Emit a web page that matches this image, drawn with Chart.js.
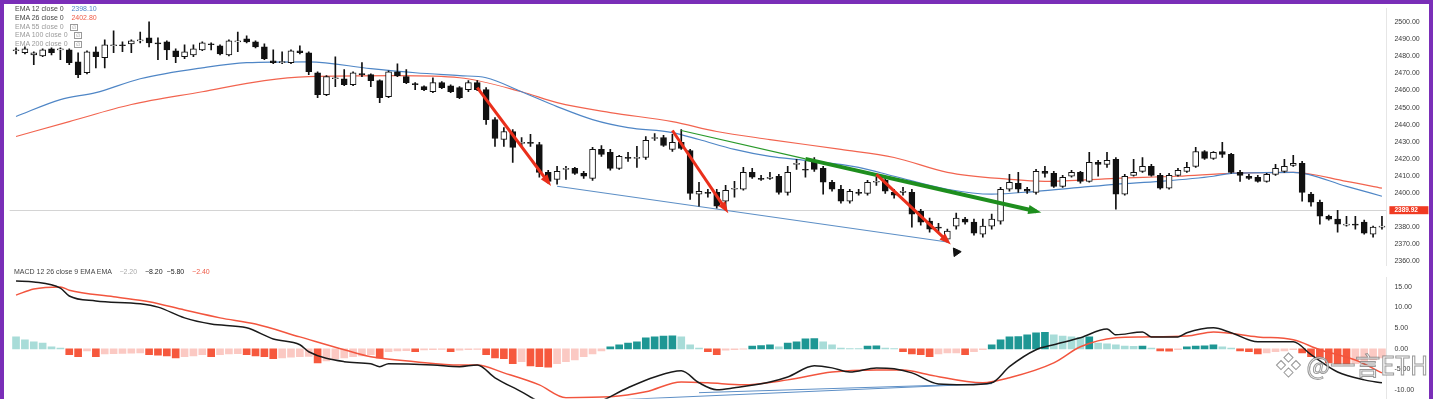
<!DOCTYPE html>
<html>
<head>
<meta charset="utf-8">
<script src="https://cdn.jsdelivr.net/npm/chart.js@4.4.1/dist/chart.umd.min.js"></script>
<style>
  html, body { margin: 0; padding: 0; background: #fff; }
  #wrap { position: relative; width: 1436px; height: 399px; overflow: hidden; background: #fff;
          font-family: "Liberation Sans", Arial, sans-serif; }
  #mainBox { position: absolute; left: 0; top: 0; width: 1436px; height: 271px; }
  #macdBox { position: absolute; left: 0; top: 268px; width: 1436px; height: 136px; }
  #frame { position: absolute; left: 0; top: 0; width: 1433px; height: 399px; box-sizing: border-box;
           border-top: 4px solid #7a2eb8; border-left: 4px solid #7a2eb8; border-right: 4px solid #7a2eb8;
           pointer-events: none; }
  .lg { position: absolute; font-size: 7px; line-height: 8px; color: #444; white-space: pre; }
  .lg.off { color: #9a9a9a; }
  .box { display: inline-block; border: 1px solid #9a9a9a; font-size: 5px; line-height: 5px; padding: 0 1px; margin-left: 6px; }
  #mark { position: absolute; left: 1276px; top: 350px; font-family: "Noto Sans CJK SC", "DejaVu Sans", sans-serif;
          font-size: 25px; line-height: 28px; color: rgba(255,255,255,0.85);
          -webkit-text-stroke: 1px rgba(110,110,110,0.7); white-space: pre; }
</style>
</head>
<body>
<div id="wrap">
  <div id="mainBox"><canvas id="mainChart"></canvas></div>
  <div id="macdBox"><canvas id="macdChart"></canvas></div>

  <div class="lg" style="left:15px;top:5px">EMA 12 close 0    <span style="color:#4f86c6">2398.10</span></div>
  <div class="lg" style="left:15px;top:14px">EMA 26 close 0    <span style="color:#ef5b47">2402.80</span></div>
  <div class="lg off" style="left:15px;top:23px">EMA 55 close 0<span class="box">∅</span></div>
  <div class="lg off" style="left:15px;top:31px">EMA 100 close 0<span class="box">∅</span></div>
  <div class="lg off" style="left:15px;top:40px">EMA 200 close 0<span class="box">∅</span></div>

  <div class="lg" style="left:14px;top:268px">MACD 12 26 close 9 EMA EMA    <span style="color:#aaa">−2.20</span>    <span style="color:#222">−8.20  −5.80</span>    <span style="color:#ef5b47">−2.40</span></div>

  <div id="mark">❖ @一言ETH</div>
  <div id="frame"></div>
</div>

<script>
// candles (one per bar, oldest first)
const opens = [2483.3,2482.1,2480.9,2480.3,2484.4,2483.8,2483.8,2476.8,2470.4,2482.7,2479.2,2486.2,2486.8,2487.3,2489.1,2490.8,2487.9,2488.5,2483.3,2479.8,
  2480.9,2483.8,2487.3,2486.2,2480.9,2488.5,2490.3,2488.5,2485.6,2477.4,2476.3,2476.3,2483.3,2482.1,2470.4,2457.6,2466.9,2466.9,2463.4,2469.8,
  2469.3,2465.8,2456.4,2471.0,2468.1,2464.0,2462.3,2459.3,2464.6,2462.8,2461.7,2460.5,2464.6,2460.5,2443.0,2431.3,2436.0,2429.0,2429.6,2428.4,
  2412.1,2408.0,2413.8,2414.4,2411.5,2408.6,2425.5,2423.8,2414.4,2420.8,2420.3,2420.8,2431.9,2432.5,2425.5,2429.6,2424.9,2399.3,2400.4,2400.4,
  2395.2,2402.2,2402.2,2412.1,2408.6,2408.6,2409.8,2400.4,2416.8,2413.8,2419.1,2414.4,2406.3,2402.2,2395.2,2400.4,2399.8,2406.3,2407.4,2400.4,
  2400.4,2400.4,2389.3,2383.5,2380.0,2373.0,2380.6,2384.7,2382.9,2375.9,2380.6,2383.5,2402.2,2405.7,2402.2,2400.4,2412.7,2411.5,2403.9,2409.8,
  2412.1,2406.8,2417.9,2416.8,2419.7,2399.3,2410.3,2412.7,2415.6,2410.3,2402.8,2410.3,2412.7,2415.6,2424.3,2420.3,2424.3,2422.6,2412.1,2409.8,
  2409.2,2406.8,2410.9,2412.7,2416.2,2417.3,2399.3,2394.6,2386.4,2384.7,2381.2,2381.8,2382.9,2375.9,2380.0];
const highs = [2485.0,2485.6,2482.7,2484.4,2485.0,2485.0,2484.4,2482.1,2483.3,2485.6,2489.7,2494.9,2488.5,2489.7,2494.3,2500.2,2490.8,2489.1,2484.4,2486.8,
  2486.8,2488.5,2487.9,2486.8,2489.7,2494.3,2492.0,2489.1,2487.3,2483.8,2482.7,2483.8,2486.2,2482.7,2471.0,2468.7,2479.8,2472.2,2471.0,2476.3,
  2469.8,2466.3,2471.6,2475.7,2472.2,2464.6,2462.8,2467.5,2465.2,2463.4,2462.3,2465.8,2465.8,2461.7,2444.2,2438.3,2437.2,2432.5,2434.3,2429.6,
  2413.3,2415.6,2415.6,2415.0,2412.7,2426.7,2427.8,2425.5,2422.0,2423.8,2427.3,2433.1,2434.8,2433.7,2434.3,2437.2,2425.5,2406.3,2402.2,2402.2,
  2404.5,2406.8,2415.0,2414.4,2410.3,2412.1,2410.9,2415.6,2419.7,2418.5,2420.8,2415.6,2407.4,2404.5,2402.2,2402.2,2407.4,2409.2,2409.2,2402.2,
  2403.3,2402.2,2390.5,2385.3,2382.3,2378.8,2388.2,2385.8,2384.7,2384.7,2387.6,2403.3,2410.9,2412.1,2403.3,2413.8,2415.6,2412.7,2410.3,2413.3,
  2412.7,2423.8,2419.1,2423.8,2420.8,2410.9,2419.7,2420.8,2416.8,2411.5,2411.5,2414.4,2417.9,2426.7,2424.9,2424.3,2429.6,2423.2,2413.3,2410.9,
  2410.3,2411.5,2416.8,2419.7,2422.0,2418.5,2400.4,2395.8,2387.0,2389.9,2386.4,2386.4,2384.1,2380.6,2386.4];
const lows = [2481.5,2481.5,2475.1,2479.8,2480.9,2478.0,2475.1,2467.5,2469.8,2473.3,2473.3,2482.1,2482.7,2482.1,2487.9,2485.6,2478.0,2478.0,2476.3,2478.6,
  2479.8,2483.3,2483.8,2480.9,2480.3,2482.7,2487.9,2485.0,2478.0,2475.7,2475.7,2475.7,2481.5,2469.3,2455.8,2457.0,2462.3,2462.8,2462.8,2468.1,
  2462.3,2452.9,2455.8,2468.1,2464.0,2460.5,2459.9,2458.8,2461.1,2458.8,2455.3,2459.3,2459.9,2440.1,2427.3,2427.3,2417.9,2427.3,2427.3,2409.2,
  2405.7,2405.1,2408.0,2410.9,2408.6,2407.4,2421.4,2413.3,2413.8,2418.5,2415.0,2419.7,2430.8,2427.3,2424.3,2425.5,2396.3,2392.3,2397.5,2391.1,
  2390.5,2397.5,2401.6,2408.6,2407.4,2408.0,2399.3,2398.7,2413.8,2409.2,2412.7,2399.3,2401.0,2394.0,2394.0,2398.7,2398.7,2404.5,2399.8,2396.9,
  2398.7,2380.0,2381.2,2377.1,2377.1,2371.3,2378.8,2381.8,2375.3,2374.2,2378.8,2381.8,2401.0,2400.4,2399.8,2399.3,2409.2,2403.3,2403.3,2409.2,
  2405.7,2406.3,2409.8,2415.0,2390.5,2398.7,2409.8,2412.1,2409.8,2402.2,2402.2,2409.8,2412.1,2415.0,2419.7,2419.7,2420.8,2411.5,2406.8,2408.0,
  2406.3,2406.3,2410.3,2412.1,2415.6,2395.2,2392.3,2381.8,2384.1,2377.1,2380.6,2378.8,2375.9,2374.2,2378.8];
const closes = [2483.8,2484.4,2482.1,2483.8,2482.1,2484.4,2476.3,2469.3,2482.7,2479.8,2486.8,2486.8,2486.2,2489.1,2489.7,2487.9,2487.3,2483.8,2479.8,2482.7,
  2484.4,2487.9,2486.8,2481.5,2489.1,2489.1,2488.5,2485.6,2478.6,2476.3,2476.8,2483.3,2482.1,2471.0,2457.6,2468.1,2467.5,2463.4,2470.4,2469.3,
  2465.8,2455.8,2471.0,2468.7,2464.6,2463.4,2460.5,2464.6,2461.7,2459.3,2455.8,2464.6,2460.5,2443.0,2431.9,2436.0,2426.7,2429.6,2429.0,2412.1,
  2406.8,2412.7,2414.4,2411.5,2409.8,2425.5,2422.6,2414.4,2421.4,2420.3,2420.8,2430.8,2432.5,2427.8,2429.6,2426.1,2399.8,2401.0,2399.8,2392.3,
  2401.6,2402.8,2412.1,2409.2,2408.0,2409.2,2400.4,2412.1,2417.3,2413.3,2413.8,2406.3,2402.2,2395.2,2401.0,2399.8,2406.3,2406.8,2401.0,2398.7,
  2401.0,2387.6,2382.9,2378.8,2379.4,2377.7,2385.3,2382.9,2376.5,2380.6,2384.7,2402.2,2406.3,2402.2,2401.0,2412.7,2411.5,2403.9,2409.2,2412.1,
  2406.8,2417.9,2416.8,2419.1,2399.3,2409.8,2412.1,2415.6,2410.3,2402.8,2410.3,2413.3,2415.0,2424.3,2420.3,2423.8,2422.6,2412.1,2410.3,2408.6,
  2406.8,2410.9,2414.4,2415.6,2417.3,2400.4,2394.6,2386.4,2384.7,2381.8,2381.8,2381.2,2376.5,2380.0,2380.6];

// moving averages, read at a few bars (index -> value)
const emaFastAt = [0,5,9,14,21,26,33,40,45,50,53,57,61,65,69,74,77,81,85,89,95,99,105,110,115,120,124,129,135,137,144,150,154];
const emaFast = [2444.8,2454.7,2458.8,2466.9,2473.3,2476.3,2476.8,2472.8,2470.4,2468.7,2467.5,2459.3,2450.6,2443.0,2438.3,2435.4,2431.3,2425.5,
  2421.4,2419.1,2415.0,2409.8,2402.2,2399.3,2401.0,2403.3,2405.1,2406.8,2409.8,2411.5,2412.1,2403.9,2398.1];
const emaSlowAt = [0,6,13,21,28,33,43,50,57,61,67,74,79,85,93,99,105,112,116,124,131,137,144,150,154];
const emaSlow = [2433.1,2441.8,2451.8,2459.3,2465.8,2468.1,2468.7,2467.5,2459.3,2452.9,2447.1,2441.8,2436.0,2431.3,2425.5,2420.8,2412.1,
  2408.0,2406.8,2408.6,2409.8,2411.5,2412.1,2406.8,2402.8];

// drawings on the price panel (bar index, price)
const redArrowFrom = [52, 74, 97];
const redArrowFromPrice = [2461.7, 2436.6, 2410.9];
const redArrowTo = [60, 80, 105];
const redArrowToPrice = [2406.3, 2390.5, 2371.8];
const greenTrendAt = [75, 89, 115];
const greenTrend = [2436.6, 2420.0, 2389.3];
const channelAt = [61, 105];
const channelPrice = [2403.9, 2371.3];
const cursorAt = 106, cursorPrice = 2365.4;
const lastPrice = 2389.92;
const priceTicks = [2360,2370,2380,2400,2410,2420,2430,2440,2450,2460,2470,2480,2490,2500];

// MACD panel
const macdAt = [0,2,5,6,9,14,16,19,22,26,29,32,33,37,40,41,42,47,50,52,54,57,59,62,65,69,72,75,77,79,81,85,87,90,92,94,97,99,101,104,
  107,110,112,115,117,120,123,124,127,128,131,132,135,137,140,144,146,149,152,154];
const macdLine = [16.4,16.2,14.7,12.8,11.6,10.9,10.1,7.5,6.0,5.1,2.4,1.0,-0.7,-3.1,-3.6,-4.3,-3.6,-3.9,-4.3,-3.9,-7.0,-10.4,-12.8,-14.7,-13.5,
  -9.4,-6.8,-5.3,-8.2,-9.9,-9.4,-8.0,-6.8,-4.1,-4.6,-5.6,-4.6,-4.8,-5.8,-8.5,-8.7,-8.2,-4.3,-0.2,1.0,2.7,4.8,3.4,4.1,2.9,2.9,3.9,5.1,3.9,1.7,
  1.7,-1.4,-5.6,-7.5,-8.2];
const signalAt = [0,2,5,6,11,15,19,23,27,32,37,40,45,50,52,55,59,62,67,71,75,78,82,87,92,97,100,103,109,112,117,120,124,127,132,135,140,144,147,151,154];
const signalLine = [13.0,14.5,15.0,14.2,12.6,11.4,9.4,7.5,6.0,2.9,-0.2,-1.9,-3.1,-3.9,-3.9,-5.8,-8.7,-11.8,-11.6,-10.4,-8.0,-8.2,-8.7,-7.5,-5.6,
  -5.1,-5.1,-6.3,-8.2,-7.0,-3.4,0.5,2.7,2.9,3.1,4.1,2.9,2.2,-0.2,-2.7,-5.8];
const histogram = [2.9,2.2,1.7,1.4,0.5,0.2,-1.4,-1.9,-0.5,-1.9,-1.2,-1.15,-1.1,-1.05,-1.0,-1.4,-1.5,-1.7,-2.2,-1.9,
  -1.7,-1.4,-1.9,-1.4,-1.2,-1.15,-1.4,-1.7,-1.9,-2.4,-2.2,-2.0,-1.9,-1.85,-3.4,-2.9,-2.4,-2.2,-1.9,-1.7,
  -1.4,-2.2,-0.7,-0.5,-0.45,-0.7,-0.25,-0.2,-0.15,-0.7,-0.3,-0.2,-0.15,-1.4,-2.2,-2.4,-3.6,-3.1,-4.1,-4.3,
  -4.4,-3.6,-3.1,-2.7,-1.9,-1.2,-0.5,0.5,1.0,1.4,1.7,2.7,2.9,3.1,3.15,2.9,1.0,0.2,-0.7,-1.4,
  -0.3,-0.2,-0.05,0.7,0.8,1.0,0.5,1.4,1.7,2.4,2.5,1.7,1.0,0.2,0.1,0.05,0.7,0.75,0.2,0.1,
  -0.7,-1.2,-1.4,-1.9,-1.2,-1.0,-0.95,-1.4,-0.7,-0.2,1.0,2.2,2.9,3.0,3.4,3.9,4.0,3.4,3.1,2.9,
  2.8,2.9,1.4,1.2,1.0,0.7,0.6,0.7,0.2,-0.5,-0.55,-0.2,0.5,0.7,0.75,1.0,0.5,0.2,-0.5,-0.7,
  -1.2,-1.0,-0.7,-0.5,-0.2,-1.0,-1.9,-2.4,-3.4,-3.9,-4.0,-3.6,-3.1,-2.7,-2.2];
const divergenceFrom = [68, 77];
const divergenceFromValue = [-12.3, -10.6];
const divergenceTo = 110, divergenceToValue = -8.4;
const macdTicks = [-10, -5, 0, 5, 10, 15];

const N = opens.length;
const candleTimes = opens.map((_, i) => 'bar ' + (i + 1));

const sparse = (idx, vals) => {
  const a = new Array(N).fill(null);
  idx.forEach((k, j) => { a[k] = vals[j]; });
  return a;
};

// arrow heads for line datasets that carry arrowSize
const arrowHeads = {
  id: 'arrowHeads',
  afterDatasetsDraw(chart) {
    const ctx = chart.ctx;
    chart.data.datasets.forEach((ds, di) => {
      if (!ds.arrowSize) return;
      const meta = chart.getDatasetMeta(di);
      const pts = meta.data.filter((p, i) => ds.data[i] !== null);
      const a = pts[pts.length - 2], b = pts[pts.length - 1];
      const ang = Math.atan2(b.y - a.y, b.x - a.x);
      const s = ds.arrowSize;
      ctx.save();
      ctx.fillStyle = ds.borderColor;
      ctx.beginPath();
      ctx.moveTo(b.x + Math.cos(ang) * s * 0.6, b.y + Math.sin(ang) * s * 0.6);
      ctx.lineTo(b.x + Math.cos(ang + 2.6) * s, b.y + Math.sin(ang + 2.6) * s);
      ctx.lineTo(b.x + Math.cos(ang - 2.6) * s, b.y + Math.sin(ang - 2.6) * s);
      ctx.closePath();
      ctx.fill();
      ctx.restore();
    });
  }
};

// last price line + tag on the price axis
const priceTag = {
  id: 'priceTag',
  beforeDatasetsDraw(chart) {
    const { ctx, chartArea, scales } = chart;
    const y = Math.round(scales.y.getPixelForValue(lastPrice)) + 0.5;
    ctx.save();
    ctx.strokeStyle = '#d4d4d4';
    ctx.lineWidth = 1;
    ctx.beginPath();
    ctx.moveTo(chartArea.left - 2, y);
    ctx.lineTo(chartArea.right, y);
    ctx.stroke();
    ctx.restore();
  },
  afterDraw(chart) {
    const { ctx, chartArea, scales } = chart;
    const y = scales.y.getPixelForValue(lastPrice);
    ctx.save();
    ctx.fillStyle = '#f03a22';
    ctx.fillRect(chartArea.right + 3, y - 4, 39, 8);
    ctx.fillStyle = '#fff';
    ctx.font = 'bold 6.5px "Liberation Sans", Arial';
    ctx.textBaseline = 'middle';
    ctx.fillText(lastPrice.toFixed(2), chartArea.right + 8, y + 0.5);
    ctx.restore();
  }
};

const lineDs = (data, color, width, order, extra) => Object.assign({
  type: 'line', data, borderColor: color, borderWidth: width, pointRadius: 0,
  spanGaps: true, tension: 0, order
}, extra || {});

const rightAxis = (min, max, ticks, digits) => ({
  position: 'right', min, max,
  afterBuildTicks: (s) => { s.ticks = ticks.map(v => ({ value: v })); },
  afterFit: (s) => { s.width = 44; },
  grid: { display: false, drawTicks: true, tickLength: 7 },
  border: { display: true, color: '#e6e6e6' },
  ticks: { padding: 1, color: '#3a3a3a', font: { size: 7, family: '"Liberation Sans", Arial' },
           callback: (v) => Number(v).toFixed(digits) }
});

const datasets = [
  // arrows on top
  ...redArrowFrom.map((f, k) => lineDs(sparse([f, redArrowTo[k]], [redArrowFromPrice[k], redArrowToPrice[k]]),
    '#ea2f1b', 3, 0, { arrowSize: 8 })),
  lineDs(sparse(greenTrendAt.slice(0, 2), greenTrend.slice(0, 2)), '#2a9a2a', 1.2, 0),
  lineDs(sparse(greenTrendAt.slice(1), greenTrend.slice(1)), '#1e8e1e', 4, 0, { arrowSize: 9 }),
  {
    type: 'scatter', data: sparse([cursorAt], [cursorPrice]), pointStyle: 'triangle', pointRotation: -35,
    pointRadius: 5, backgroundColor: '#111', borderColor: '#111', order: 0
  },
  {
    type: 'bar', data: opens.map((o, i) => [o, closes[i]]), grouped: false, barThickness: 6, minBarLength: 1,
    backgroundColor: opens.map((o, i) => closes[i] >= o ? '#ffffff' : '#111111'),
    borderColor: '#111', borderWidth: 1, borderSkipped: false, order: 1
  },
  {
    type: 'bar', data: lows.map((l, i) => [l, highs[i]]), grouped: false, barThickness: 1,
    backgroundColor: '#111', order: 2
  },
  lineDs(sparse(emaFastAt, emaFast), '#4f86c6', 1.2, 3, { cubicInterpolationMode: 'monotone' }),
  lineDs(sparse(emaSlowAt, emaSlow), '#f2644f', 1.2, 3, { cubicInterpolationMode: 'monotone' }),
  lineDs(sparse(channelAt, channelPrice), '#5d8fc6', 1.1, 4)
];

new Chart(document.getElementById('mainChart'), {
  type: 'bar',
  data: { labels: candleTimes, datasets },
  options: {
    responsive: true, maintainAspectRatio: false, animation: false, events: [],
    layout: { padding: { left: 11.6, right: 5.6, top: 8, bottom: 5 } },
    plugins: { legend: { display: false }, tooltip: { enabled: false } },
    scales: {
      x: { display: false, offset: true },
      y: rightAxis(2357.83, 2508.33, priceTicks, 2)
    }
  },
  plugins: [arrowHeads, priceTag]
});

const histColors = histogram.map((v, i) => {
  const prev = i ? histogram[i - 1] : v;
  if (v >= 0) return v > prev ? '#1e9794' : '#a8dcd8';
  return v < prev ? '#f6583d' : '#fbc9c3';
});

new Chart(document.getElementById('macdChart'), {
  type: 'bar',
  data: {
    labels: candleTimes,
    datasets: [
      lineDs(sparse(macdAt, macdLine), '#1a1a1a', 1.5, 0, { cubicInterpolationMode: 'monotone' }),
      lineDs(sparse(signalAt, signalLine), '#f2553e', 1.5, 1, { cubicInterpolationMode: 'monotone' }),
      ...divergenceFrom.map((f, k) => lineDs(sparse([f, divergenceTo], [divergenceFromValue[k], divergenceToValue]),
        '#5d8fc6', 1, 2)),
      { type: 'bar', data: histogram, backgroundColor: histColors, barThickness: 7, grouped: false, order: 3 }
    ]
  },
  options: {
    responsive: true, maintainAspectRatio: false, animation: false, events: [],
    layout: { padding: { left: 11.6, right: 5.6, top: 9, bottom: 5 } },
    plugins: { legend: { display: false }, tooltip: { enabled: false } },
    scales: {
      x: { display: false, offset: true },
      y: rightAxis(-12.08, 17.39, macdTicks, 2)
    }
  }
});
</script>
</body>
</html>
